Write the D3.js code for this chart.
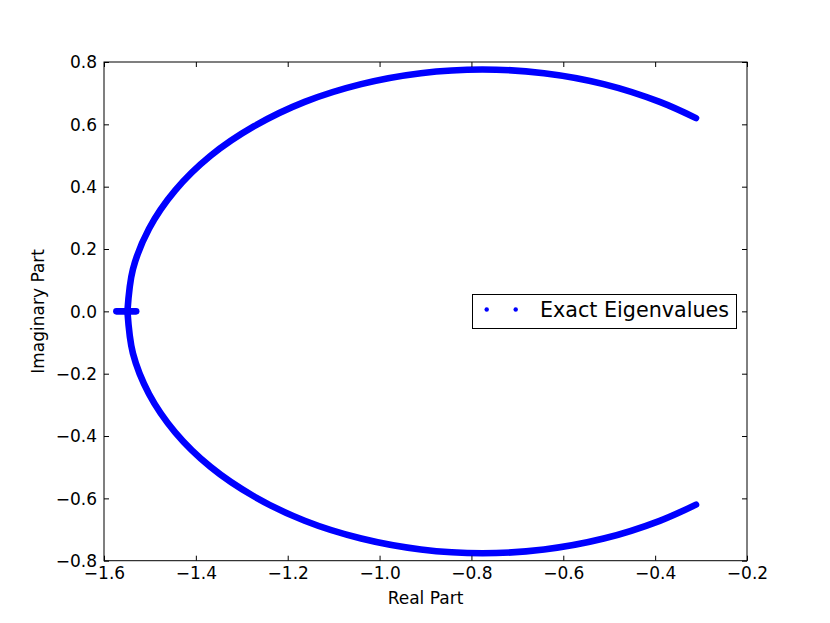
<!DOCTYPE html>
<html>
<head>
<meta charset="utf-8">
<script src="https://cdn.jsdelivr.net/npm/d3@7"></script>
<style>
  html, body { margin: 0; padding: 0; background: #fff; }
  svg { display: block; }
  text { font-family: "DejaVu Sans", sans-serif; fill: #000; }
</style>
</head>
<body>
<svg id="chart" width="830" height="623"></svg>
<script>
// ---- data ----
const upperReal = [-1.549, -1.537, -1.502, -1.445, -1.368, -1.273, -1.163, -1.040, -0.910, -0.776, -0.642, -0.512, -0.390, -0.311];
const upperImag = [0.000, 0.135, 0.265, 0.388, 0.499, 0.594, 0.672, 0.729, 0.764, 0.776, 0.764, 0.729, 0.672, 0.620];
const lowerReal = [-1.549, -1.537, -1.502, -1.445, -1.368, -1.273, -1.163, -1.040, -0.910, -0.776, -0.642, -0.512, -0.390, -0.311];
const lowerImag = [0.000, -0.135, -0.265, -0.388, -0.499, -0.594, -0.672, -0.729, -0.764, -0.776, -0.764, -0.729, -0.672, -0.620];
const axisReal = [-1.573, -1.566, -1.559, -1.552, -1.545, -1.537, -1.530];
const axisImag = [0, 0, 0, 0, 0, 0, 0];
const xTicks = [-1.6, -1.4, -1.2, -1.0, -0.8, -0.6, -0.4, -0.2];
const yTicks = [-0.8, -0.6, -0.4, -0.2, 0.0, 0.2, 0.4, 0.6, 0.8];
const seriesName = "Exact Eigenvalues";

// ---- layout ----
const L = 104, R = 747, T = 62, B = 560.7;
const svg = d3.select("#chart");
const x = d3.scaleLinear().domain([-1.6, -0.2]).range([L, R]);
const y = d3.scaleLinear().domain([-0.8, 0.8]).range([B, T]);
const blue = "#0000ff";
const fmt = d => d3.format(".1f")(d).replace("-", "\u2212");

// curve
const line = d3.line().x(d => x(d[0])).y(d => y(d[1])).curve(d3.curveCatmullRom.alpha(0.5));
svg.append("clipPath").attr("id", "clip").append("rect")
  .attr("x", L).attr("y", T).attr("width", R - L).attr("height", B - T);
const plot = svg.append("g").attr("clip-path", "url(#clip)");
const upper = upperReal.map((v, i) => [v, upperImag[i]]);
const lower = lowerReal.map((v, i) => [v, lowerImag[i]]);
const onAxis = axisReal.map((v, i) => [v, axisImag[i]]);
[upper, lower, onAxis].forEach(pts => {
  plot.append("path").attr("d", line(pts))
    .attr("fill", "none").attr("stroke", blue)
    .attr("stroke-width", 6.6).attr("stroke-linecap", "round").attr("stroke-linejoin", "round");
});

// axes frame
const tickLen = 5;
const gx = svg.append("g").attr("transform", `translate(0,${B})`)
  .call(d3.axisBottom(x).tickValues(xTicks).tickFormat(fmt).tickSizeInner(-tickLen).tickSizeOuter(0));
const gxTop = svg.append("g").attr("transform", `translate(0,${T})`)
  .call(d3.axisTop(x).tickValues(xTicks).tickFormat("").tickSizeInner(-tickLen).tickSizeOuter(0));
const gy = svg.append("g").attr("transform", `translate(${L},0)`)
  .call(d3.axisLeft(y).tickValues(yTicks).tickFormat(fmt).tickSizeInner(-tickLen).tickSizeOuter(0));
const gyR = svg.append("g").attr("transform", `translate(${R},0)`)
  .call(d3.axisRight(y).tickValues(yTicks).tickFormat("").tickSizeInner(-tickLen).tickSizeOuter(0));
[gx, gxTop, gy, gyR].forEach(g => {
  g.select(".domain").remove();
  g.selectAll(".tick line").attr("stroke", "#000").attr("stroke-width", 1);
  g.selectAll("text").attr("font-family", "DejaVu Sans").attr("font-size", 17).attr("fill", "#000");
});
gx.selectAll("text").attr("dy", "0.71em").attr("y", 6.5);
gy.selectAll("text").attr("x", -7).attr("dy", "0.35em");
svg.append("rect").attr("x", L).attr("y", T).attr("width", R - L).attr("height", B - T)
  .attr("fill", "none").attr("stroke", "#000").attr("stroke-width", 1);

// axis labels
svg.append("text").attr("x", (L + R) / 2).attr("y", 604).attr("text-anchor", "middle")
  .attr("font-size", 17).text("Real Part");
svg.append("text").attr("transform", `translate(44,${(T + B) / 2}) rotate(-90)`)
  .attr("text-anchor", "middle").attr("font-size", 17).text("Imaginary Part");

// legend
const lg = svg.append("g");
lg.append("rect").attr("x", 472.5).attr("y", 294.5).attr("width", 264).attr("height", 34)
  .attr("fill", "#fff").attr("stroke", "#000").attr("stroke-width", 1);
[486.7, 515.7].forEach(cx => lg.append("circle").attr("cx", cx).attr("cy", 309.5).attr("r", 2.2).attr("fill", blue));
lg.append("text").attr("x", 540).attr("y", 317).attr("font-size", 20.7).text(seriesName);
</script>
</body>
</html>
